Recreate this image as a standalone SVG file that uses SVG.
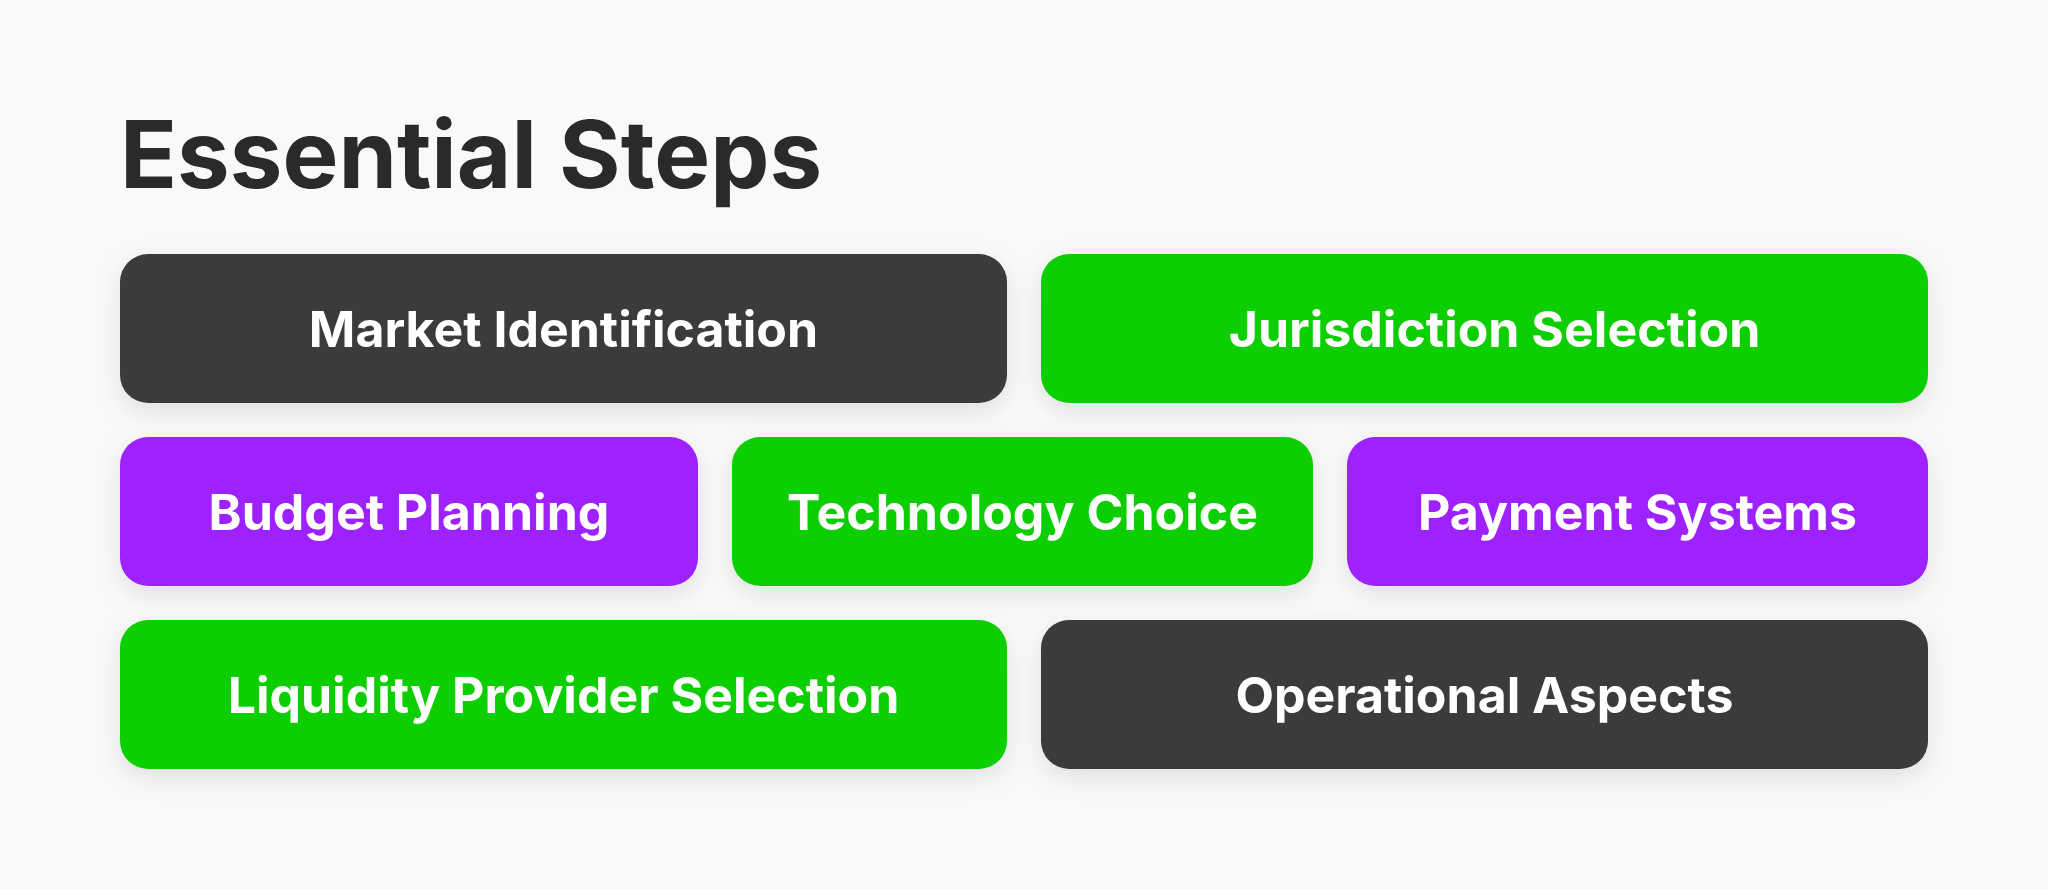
<svg xmlns="http://www.w3.org/2000/svg" width="2048" height="889" viewBox="0 0 2048 889">
<defs>
<filter id="sh" x="-10%" y="-30%" width="120%" height="160%">
<feDropShadow dx="0" dy="8" stdDeviation="12" flood-color="#000" flood-opacity="0.10"/>
</filter>
<style>
.box{filter:url(#sh);}
.dark{fill:#3b3b3b;}
.green{fill:#0bce00;}
.purple{fill:#9d22ff;}
.lbl{font-family:Inter,"Liberation Sans",sans-serif;font-weight:700;font-size:50px;fill:#ffffff;text-anchor:middle;dominant-baseline:central;}
.title{font-family:Inter,"Liberation Sans",sans-serif;font-weight:700;font-size:94px;fill:#2a2a2a;}
</style>
</defs>
<rect width="2048" height="889" fill="#f9f9f9"/>
<text class="title" x="120" y="188">Essential Steps</text>
<g id="market-identification"><rect class="box dark" x="120" y="254" width="887" height="149" rx="28"/><text class="lbl" x="563.5" y="328.5">Market Identification</text></g>
<g id="jurisdiction-selection"><rect class="box green" x="1041" y="254" width="887" height="149" rx="28"/><text class="lbl" x="1494.5" y="328.5">Jurisdiction Selection</text></g>
<g id="budget-planning"><rect class="box purple" x="120" y="437" width="578" height="149" rx="28"/><text class="lbl" x="409" y="511.5">Budget Planning</text></g>
<g id="technology-choice"><rect class="box green" x="732" y="437" width="581" height="149" rx="28"/><text class="lbl" x="1022.5" y="511.5">Technology Choice</text></g>
<g id="payment-systems"><rect class="box purple" x="1347" y="437" width="581" height="149" rx="28"/><text class="lbl" x="1637.5" y="511.5">Payment Systems</text></g>
<g id="liquidity-provider-selection"><rect class="box green" x="120" y="620" width="887" height="149" rx="28"/><text class="lbl" x="563.5" y="694.5">Liquidity Provider Selection</text></g>
<g id="operational-aspects"><rect class="box dark" x="1041" y="620" width="887" height="149" rx="28"/><text class="lbl" x="1484.5" y="694.5">Operational Aspects</text></g>
<g id="connectors"></g>
</svg>
